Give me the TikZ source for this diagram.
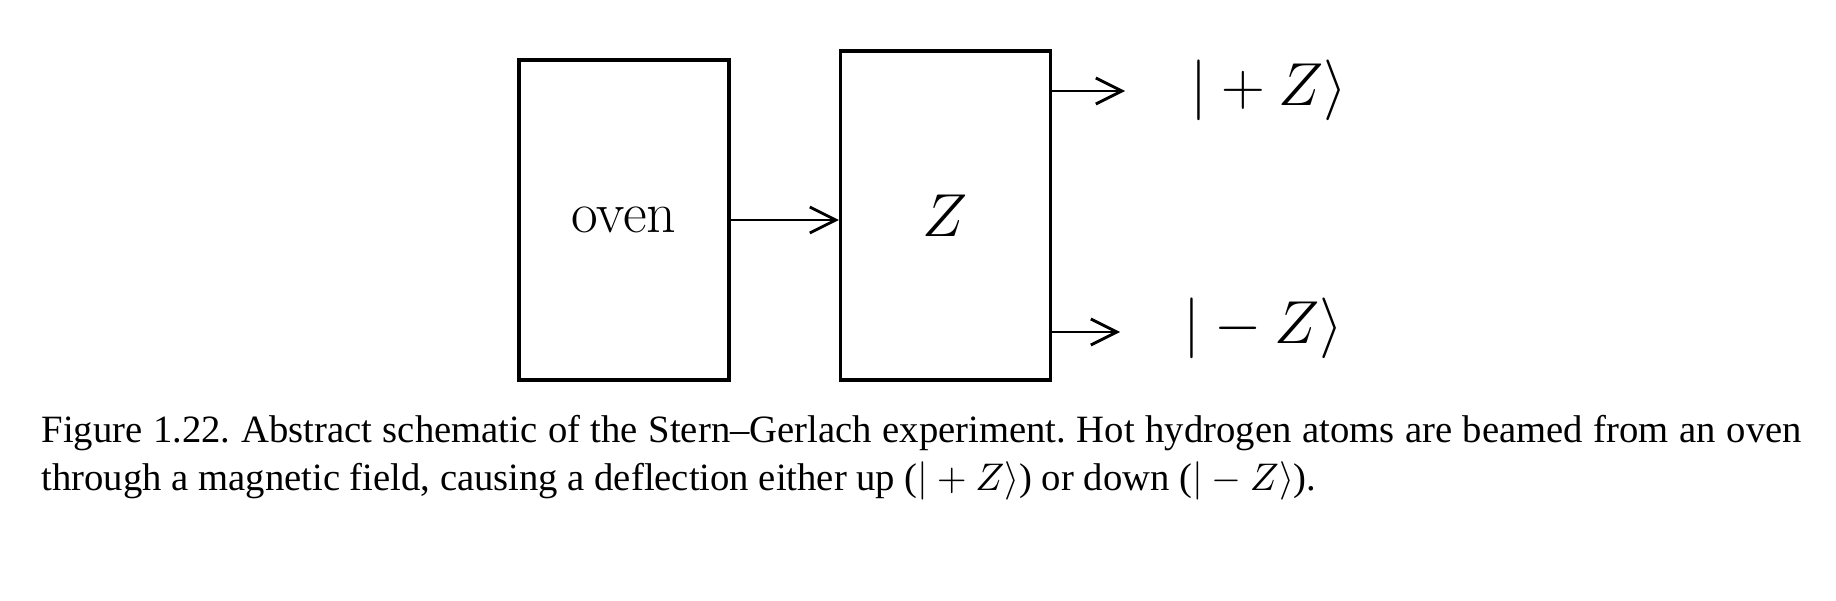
\documentclass[tikz,border=0pt]{standalone}
\usepackage{amssymb}
\usepackage{fontspec}
\newfontfamily\captionfont{Liberation Serif}
\usetikzlibrary{arrows.meta}

\begin{document}
\begin{tikzpicture}[
	box/.style={draw, line width=0.9pt, minimum width=2.1cm, inner sep=0pt},
	ket/.style={inner sep=0pt, anchor=west, font=\fontsize{17}{20}\selectfont},
	>={Straight Barb[length=2.6mm, width=2.6mm]}
	]
					\useasboundingbox (0,0) rectangle (18.36,6);
					
					\node (oven) [box, minimum height=3.2cm, font=\fontsize{16.5}{20}\selectfont] at (6.24,3.80) {oven};
					\node (zbox) [box, minimum height=3.29cm, font=\fontsize{17}{20}\selectfont] at (9.455,3.845) {$Z$};
					
					\node (plus) [ket] at (11.90,5.10) {$|+Z\rangle$};
					\node (minus) [ket] at (11.83,2.72) {$|-Z\rangle$};
					\coordinate (uptip) at (11.25,5.09);
					\coordinate (downtip) at (11.20,2.68);
					
					\path (oven.east) edge [ ->, line width=0.8pt ] (oven.east -| zbox.west);
					\path (zbox.east |- uptip) edge [ ->, line width=0.8pt ] (uptip);
					\path (zbox.east |- downtip) edge [ ->, line width=0.8pt ] (downtip);
					
					\node (caption) [anchor=base west, inner sep=0pt, align=left, font=\captionfont\fontsize{11}{13.5}\selectfont\frenchspacing] at (0.41,1.10)
						{\makebox[17.6cm][s]{Figure 1.22. Abstract schematic of the Stern–Gerlach experiment. Hot hydrogen atoms are beamed from an oven}\\
						through a magnetic field, causing a deflection either up ($|+Z\rangle$) or down ($|-Z\rangle$).};
\end{tikzpicture}
\end{document}
